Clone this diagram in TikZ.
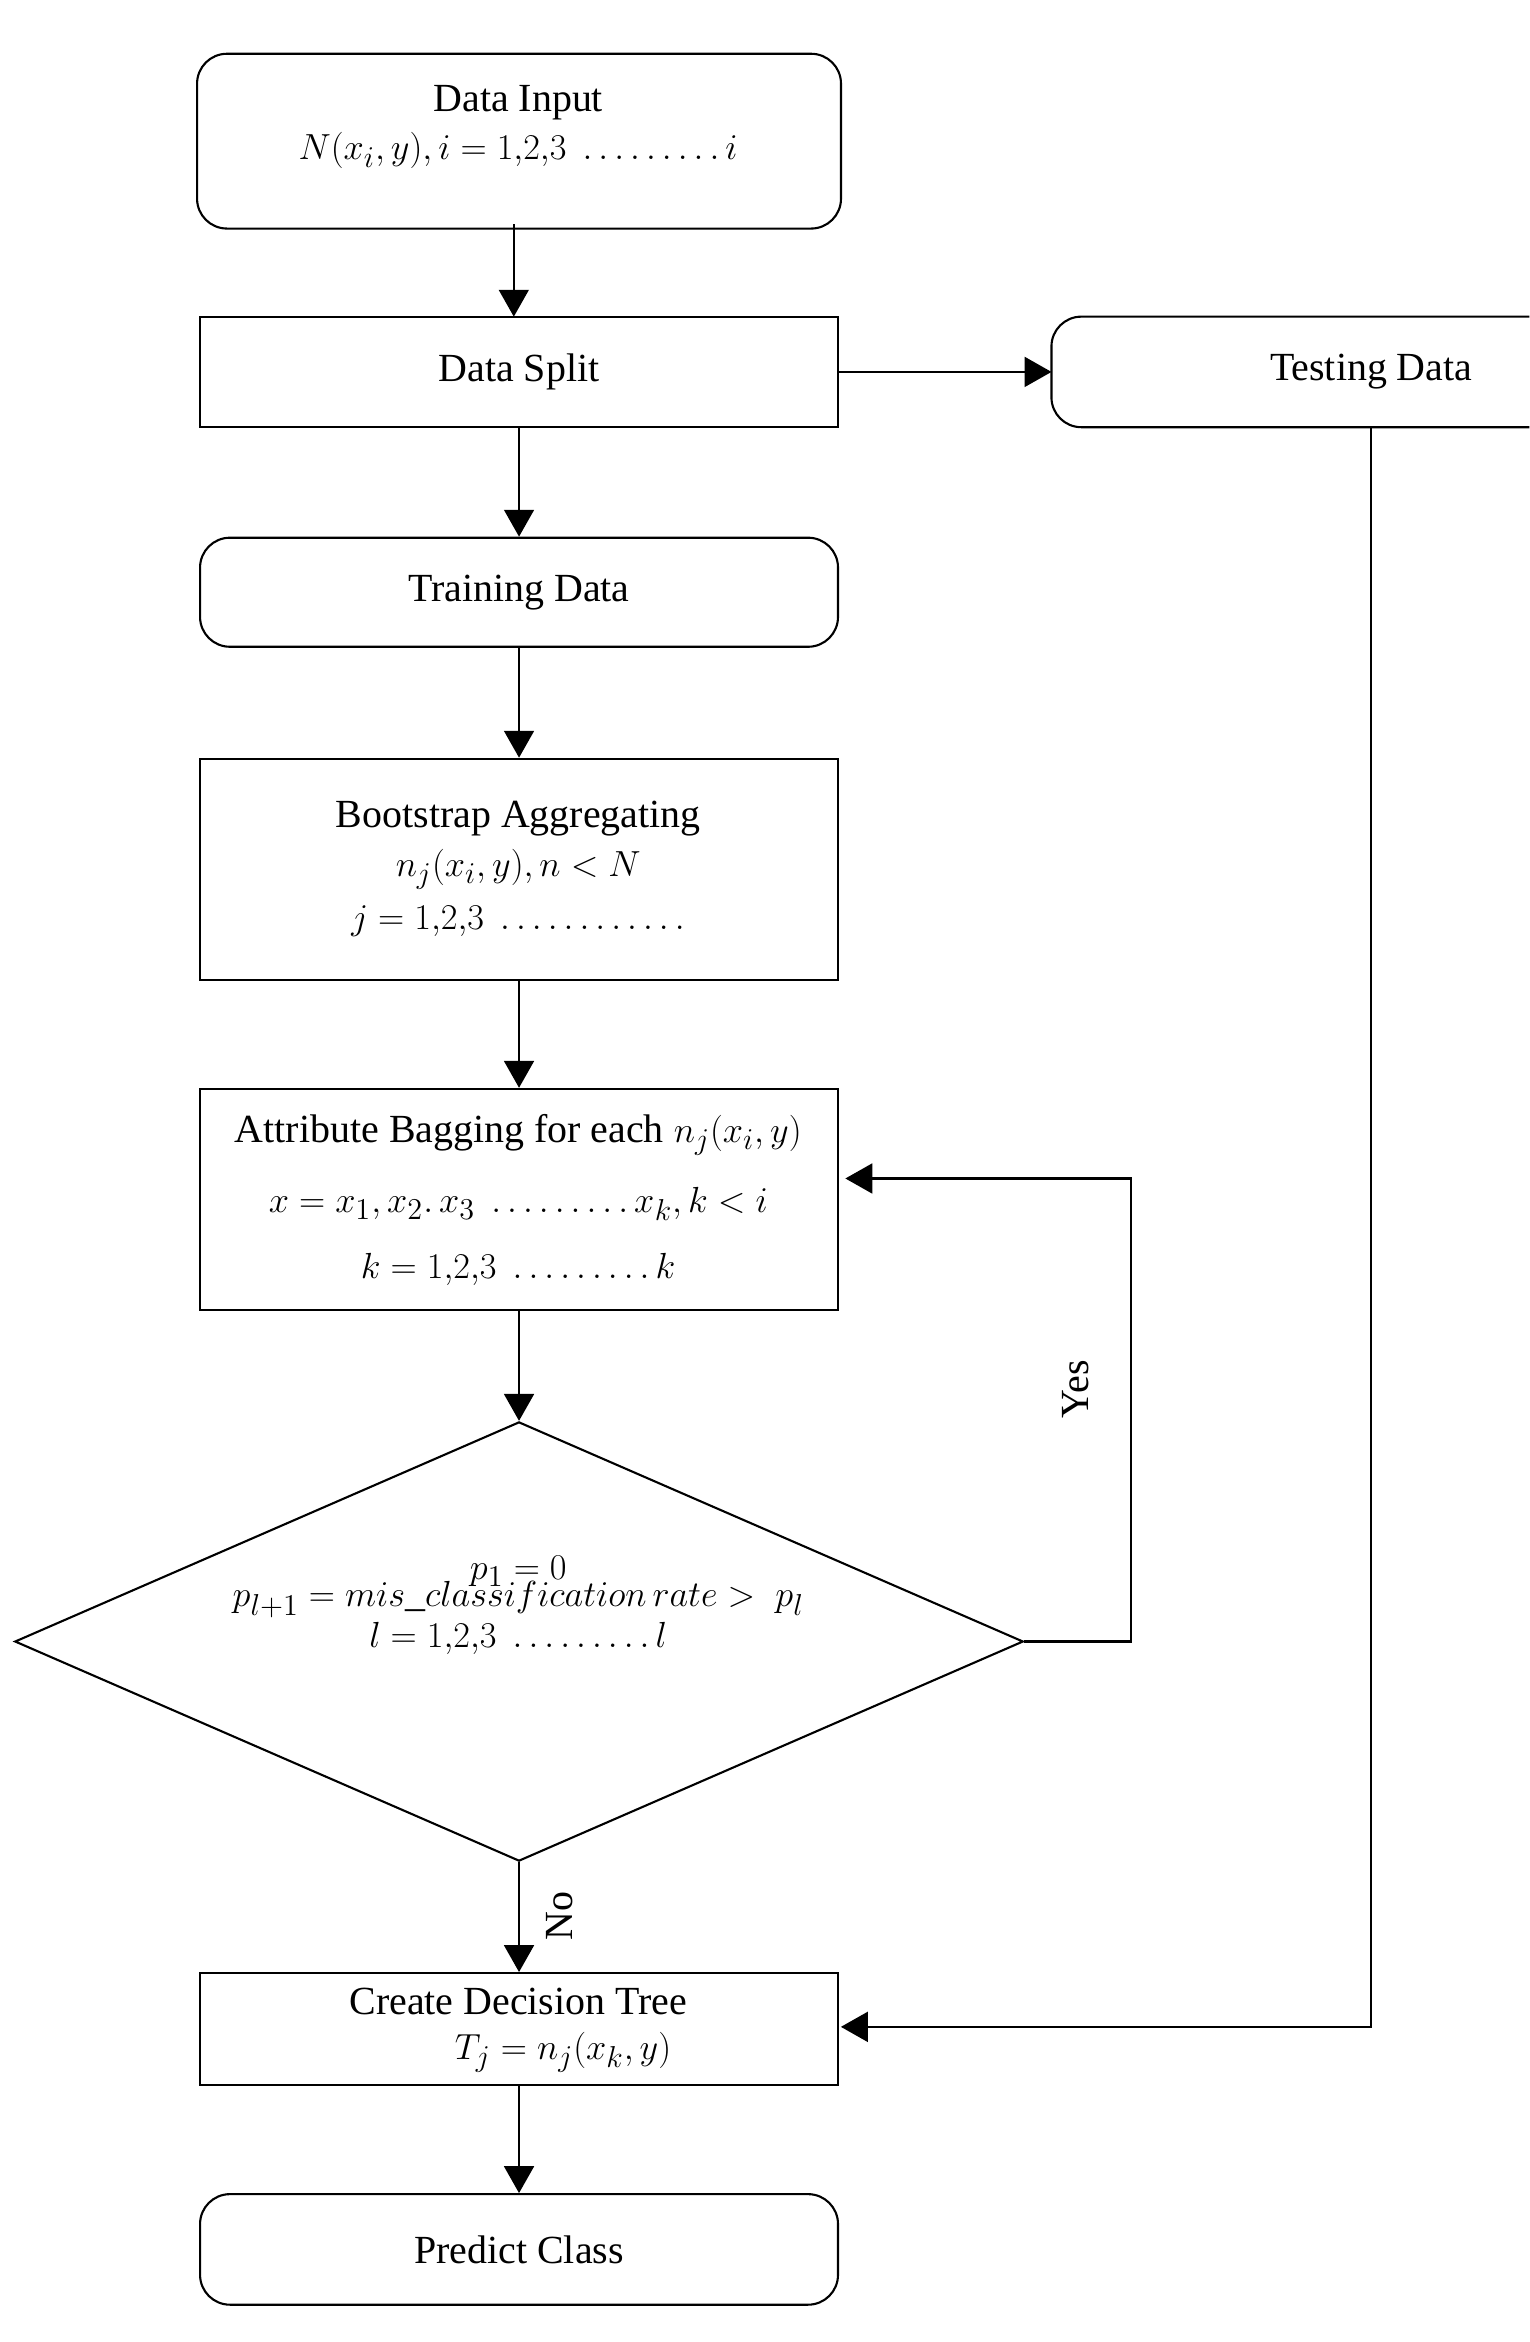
\documentclass[tikz,border=0pt]{standalone}
\usepackage{fontspec}
\setmainfont{Liberation Serif}
\usetikzlibrary{shapes.geometric,arrows.meta}
\begin{document}
\begin{tikzpicture}[x=0.025cm,y=-0.025cm,
  every node/.style={font=\fontsize{19}{23}\selectfont},
  box/.style={draw,line width=1pt,inner sep=0pt,align=center},
  rbox/.style={box,rounded corners=0.5cm},
  arr/.style={line width=1pt,-{Triangle[length=0.45cm,width=0.5cm]}},
  ln/.style={line width=1pt}]
\useasboundingbox (0,0) rectangle (1024,1568);
\node[rbox,minimum width=10.775cm,minimum height=2.925cm] (in) at (347.5,94.5) {};
\node at (347,69) {Data Input};
\node at (347,101) {$N(x_i,y),i=1{,}2{,}3\ \ldots\ldots\ldots i$};
\node[box,minimum width=10.675cm,minimum height=1.85cm] (split) at (347.5,249) {Data Split};
\begin{scope}
\clip (600,150) rectangle (1024,320);
\node[rbox,minimum width=8.5cm,minimum height=1.85cm] (test) at (874,249) {};
\end{scope}
\node (testlbl) at (918,249) {Testing Data};
\node[rbox,minimum width=10.675cm,minimum height=1.825cm] (train) at (347.5,396.5) {Training Data};
\node[box,minimum width=10.675cm,minimum height=3.7cm] (boot) at (347.5,582) {};
\node at (347,548) {Bootstrap Aggregating};
\node at (347,582) {$n_j(x_i,y),n<N$};
\node at (347,617) {$j=1{,}2{,}3\ \ldots\ldots\ldots\ldots$};
\node[box,minimum width=10.675cm,minimum height=3.7cm] (attr) at (347.5,803) {};
\node at (347,760) {Attribute Bagging for each $n_j(x_i,y)$};
\node at (347,806) {$x=x_1,x_2.\,x_3\ \ldots\ldots\ldots x_k,k<i$};
\node at (347,850) {$k=1{,}2{,}3\ \ldots\ldots\ldots k$};
\node[draw,line width=1pt,shape=diamond,inner sep=0pt,minimum width=16.875cm,minimum height=7.35cm] (dec) at (347.5,1099) {};
\node at (347,1052) {$p_1=0$};
\node at (347,1071) {$p_{l+1}=mis\_classification\,rate>\ p_l$};
\node at (347,1097) {$l=1{,}2{,}3\ \ldots\ldots\ldots l$};
\node[box,minimum width=10.675cm,minimum height=1.875cm] (tree) at (347.5,1358.5) {};
\node at (347,1340) {Create Decision Tree};
\node at (377,1374) {$T_j=n_j(x_k,y)$};
\node[rbox,minimum width=10.675cm,minimum height=1.85cm] (pred) at (347.5,1506) {Predict Class};
\coordinate (c1) at (757,1099);
\coordinate (c2) at (757,789);
\coordinate (c3) at (918,1357);
\draw[arr] (344,150) -- (344,212);
\draw[arr] (split.east) -- (704,249);
\draw[arr] (split) -- (train);
\draw[arr] (train) -- (boot);
\draw[arr] (boot) -- (attr);
\draw[arr] (attr) -- (dec.north);
\draw[arr] (dec.south) -- (tree);
\draw[arr] (tree) -- (pred);
\draw[arr] (dec.east) -- (c1) -- (c2) -- (566,789);
\draw[arr] (918,286) -- (c3) -- (563,1357);
\node[rotate=90] at (720,930) {Yes};
\node[rotate=90] at (375,1283) {No};
\end{tikzpicture}
\end{document}
